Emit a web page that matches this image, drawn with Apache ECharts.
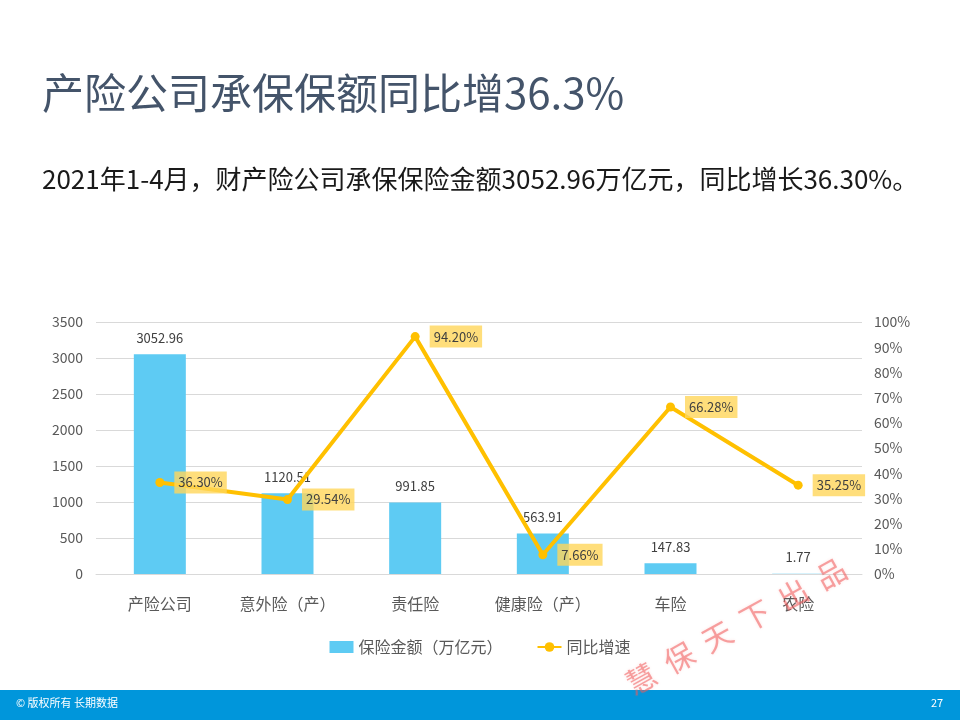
<!DOCTYPE html>
<html>
<head>
    <meta charset="utf-8">
    <script src="https://cdn.jsdelivr.net/npm/echarts@6/dist/echarts.min.js"></script>
    <style type="text/css">
        html, body { width: 100%; height: 100%; margin: 0; background: #fff; }
        #chart { width: 960px; height: 720px; }
    </style>
</head>
<body>
<div id="chart"></div>
<script type="text/javascript">
    // 数据
    var categories = ['产险公司', '意外险（产）', '责任险', '健康险（产）', '车险', '农险'];
    var amounts = [3052.96, 1120.51, 991.85, 563.91, 147.83, 1.77];
    var growth = [36.30, 29.54, 94.20, 7.66, 66.28, 35.25];
    var seriesNames = ['保险金额（万亿元）', '同比增速'];
    var titleText = '产险公司承保保额同比增36.3%';
    var subText = '2021年1-4月，财产险公司承保保险金额3052.96万亿元，同比增长36.30%。';

    var font = '"Noto Sans CJK SC", "Noto Sans", sans-serif';

    var option = {
        backgroundColor: '#fff',
        textStyle: { fontFamily: font },
        grid: { left: 96, right: 98, top: 322, bottom: 146, containLabel: false },
        legend: {
            bottom: 60,
            left: 'center',
            itemGap: 34,
            itemWidth: 24,
            itemHeight: 12,
            textStyle: { color: '#595959', fontSize: 16, fontFamily: font },
            data: [
                { name: seriesNames[0], icon: 'rect' },
                { name: seriesNames[1] }
            ]
        },
        xAxis: {
            type: 'category',
            data: categories,
            axisTick: { show: false },
            axisLine: { lineStyle: { color: '#D9D9D9', width: 1 } },
            axisLabel: { color: '#595959', fontSize: 16, margin: 22 }
        },
        yAxis: [
            {
                type: 'value',
                min: 0,
                max: 3500,
                interval: 500,
                axisLine: { show: false },
                axisTick: { show: false },
                splitLine: { lineStyle: { color: '#D9D9D9' } },
                axisLabel: { color: '#595959', fontSize: 14, margin: 13, formatter: function (v) { return String(v); } }
            },
            {
                type: 'value',
                min: 0,
                max: 100,
                interval: 10,
                axisLine: { show: false },
                axisTick: { show: false },
                splitLine: { show: false },
                axisLabel: { color: '#595959', fontSize: 14, margin: 12, formatter: '{value}%' }
            }
        ],
        series: [
            {
                name: seriesNames[0],
                type: 'bar',
                data: amounts,
                barWidth: 52,
                itemStyle: { color: '#5ECBF3' },
                label: {
                    show: true,
                    position: 'top',
                    distance: 10,
                    color: '#404040',
                    fontSize: 13,
                    formatter: function (p) { return p.value.toFixed(2); }
                }
            },
            {
                name: seriesNames[1],
                type: 'line',
                yAxisIndex: 1,
                data: growth,
                symbol: 'circle',
                symbolSize: 9,
                z: 5,
                lineStyle: { color: '#FFC000', width: 4 },
                itemStyle: { color: '#FFC000' },
                label: {
                    show: true,
                    position: 'right',
                    distance: 10,
                    color: '#404040',
                    fontSize: 13,
                    backgroundColor: 'rgba(255, 214, 90, 0.8)',
                    padding: [5, 4, 4, 4],
                    formatter: function (p) { return p.value.toFixed(2) + '%'; }
                }
            }
        ],
        graphic: [
            {
                type: 'text', left: 42, top: 72,
                style: { text: titleText, fill: '#44546A', font: '42px ' + font }
            },
            {
                type: 'text', left: 42, top: 166,
                style: { text: subText, fill: '#1a1a1a', font: '26px ' + font }
            },
            {
                type: 'rect', left: 0, top: 690,
                shape: { width: 960, height: 30 },
                style: { fill: '#0096DB' }
            },
            {
                type: 'text', left: 16, top: 697,
                style: { text: '© 版权所有 长期数据', fill: '#fff', font: '11px ' + font }
            },
            {
                type: 'text', left: 931, top: 697,
                style: { text: '27', fill: '#fff', font: '11px ' + font }
            },
            {
                // 水印
                type: 'text',
                x: 628, y: 686,
                rotation: Math.PI * 29 / 180,
                style: {
                    text: '慧  保  天  下  出  品',
                    fill: 'rgba(240, 90, 90, 0.55)',
                    font: '30px ' + font,
                    textVerticalAlign: 'middle',
                    textShadowColor: 'rgba(240, 90, 90, 0.3)',
                    textShadowBlur: 3
                },
                z: 100
            }
        ]
    };

    var myChart = echarts.init(document.getElementById('chart'));
    myChart.setOption(option);
</script>
</body>
</html>
